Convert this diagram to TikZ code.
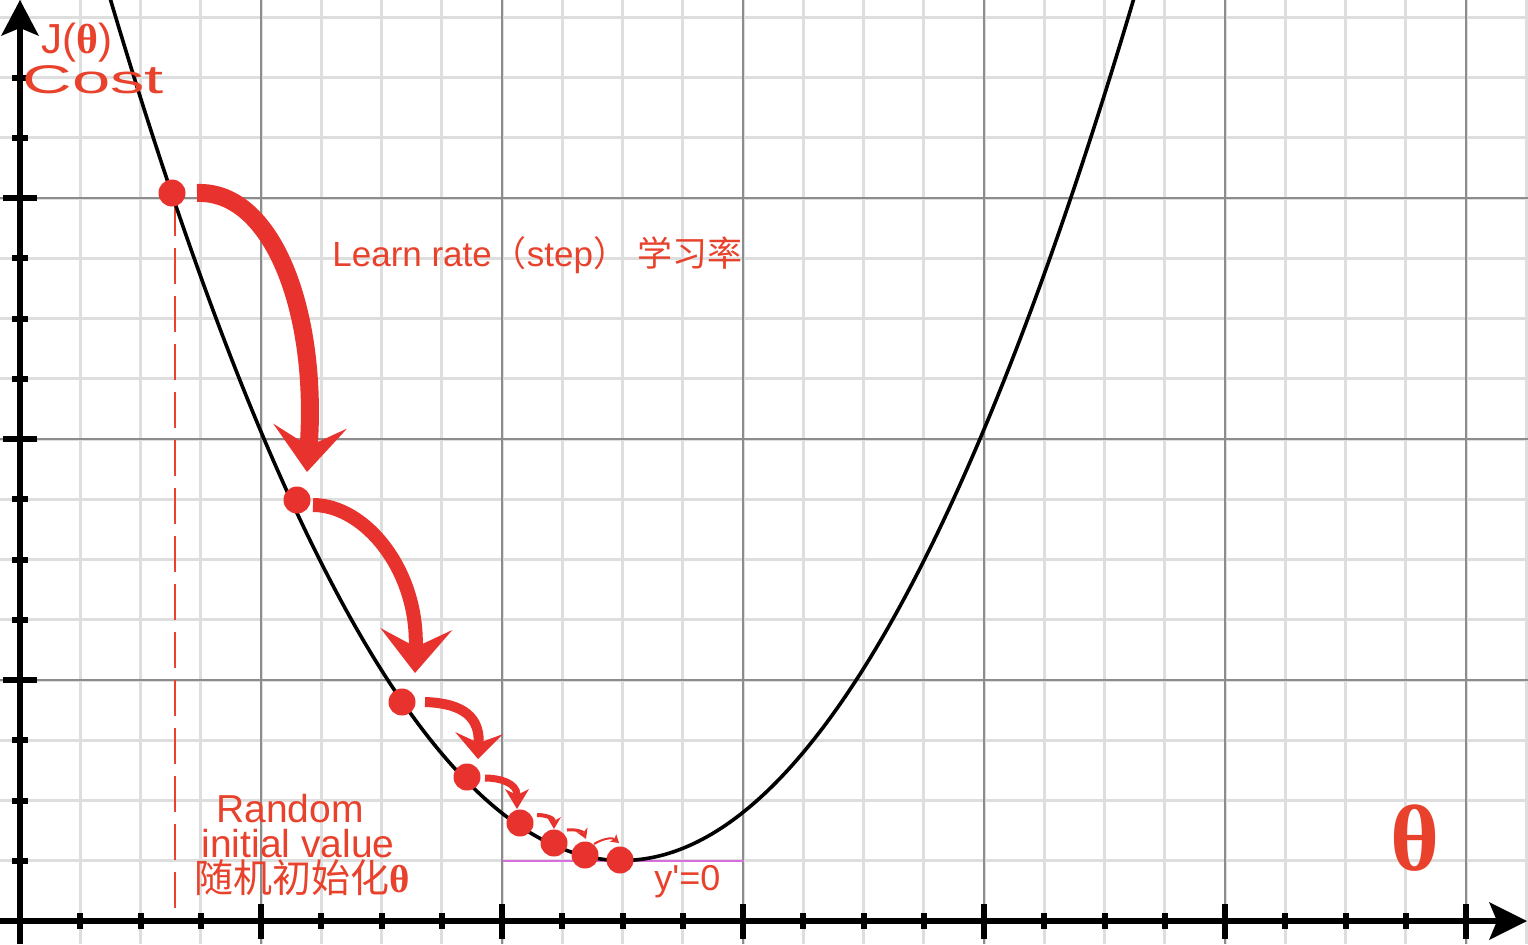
\documentclass[tikz,border=0pt]{standalone}
\usepackage{fontspec}
\usepackage{graphicx}
\setmainfont{Liberation Sans}
\newfontfamily\lsans{Liberation Sans}
\newfontfamily\serifth{Liberation Serif}
\newfontfamily\cjk{Noto Sans CJK SC}
\usetikzlibrary{arrows.meta}
\definecolor{txtred}{RGB}{232,66,44}
\definecolor{dotred}{RGB}{232,50,46}
\definecolor{minorgrid}{RGB}{222,222,222}
\definecolor{majorgrid}{RGB}{140,140,140}
\definecolor{pinkline}{RGB}{214,110,220}
\begin{document}
\begin{tikzpicture}[x=0.5pt,y=-0.5pt,
  dot/.style={circle,fill=dotred,inner sep=0pt,minimum size=13.5pt},
  minorln/.style={draw=minorgrid,line width=1.5pt},
  majorln/.style={draw=majorgrid,line width=1.4pt},
  axisln/.style={line width=3pt,draw=black},
  tickln/.style={line width=3pt,draw=black},
  lbl/.style={text=txtred,inner sep=0pt},
  jump/.style={draw=dotred},
]
\useasboundingbox (0,0) rectangle (1528,944);
\fill[white] (0,0) rectangle (1528,944);
\begin{scope}
\clip (0,0) rectangle (1528,944);
% grid
\foreach \k in {0,...,25} \draw[minorln] ({20+60.25*\k},0) -- ({20+60.25*\k},944);
\foreach \k in {0,...,15} \draw[minorln] (0,{921-60.25*\k}) -- (1528,{921-60.25*\k});
\foreach \k in {1,...,6} \draw[majorln] ({20+241*\k},0) -- ({20+241*\k},944);
\foreach \k in {1,...,3} \draw[majorln] (0,{921-241*\k}) -- (1528,{921-241*\k});
% y'=0 line
\draw[pinkline,line width=1pt] (503,861) -- (744,861);
% dashed line
\draw[txtred,line width=1pt,dash pattern=on 18pt off 6pt] (175,200) -- (175,921);
% curve
\draw[black,line width=1.8pt] plot[domain=95:1150,samples=220] (\x,{860.5-32.9*((\x-622)/100)^2});
\end{scope}
% axes
\coordinate (ybot) at (20,944);
\coordinate (ytop) at (20,0);
\coordinate (xleft) at (0,921);
\coordinate (xright) at (1527,921);
\draw[axisln,-{Stealth[length=18pt,width=19pt,inset=4pt,line width=0pt]}] (ybot) -- (ytop);
\draw[axisln,-{Stealth[length=19pt,width=19pt,inset=4pt,line width=0pt]}] (xleft) -- (xright);
% ticks
\foreach \k in {1,...,24} {
  \pgfmathtruncatemacro{\m}{mod(\k,4)}
  \ifnum\m=0
    \draw[tickln] ({20+60.25*\k},904) -- ({20+60.25*\k},939);
  \else
    \draw[tickln] ({20+60.25*\k},913) -- ({20+60.25*\k},929);
  \fi
}
\foreach \k in {1,...,14} {
  \pgfmathtruncatemacro{\m}{mod(\k,4)}
  \ifnum\m=0
    \draw[tickln] (3,{921-60.25*\k}) -- (37,{921-60.25*\k});
  \else
    \draw[tickln] (12,{921-60.25*\k}) -- (28,{921-60.25*\k});
  \fi
}
% dots
\node[dot] (d1) at (172,193) {};
\node[dot] (d2) at (297,500) {};
\node[dot] (d3) at (402,702) {};
\node[dot] (d4) at (467,777) {};
\node[dot] (d5) at (520,823) {};
\node[dot] (d6) at (554,843) {};
\node[dot] (d7) at (585,855) {};
\node[dot] (d8) at (620,860) {};
% arrows
\coordinate (a1s) at (197,193); \coordinate (a1e) at (307,472);
\coordinate (a2s) at (313,505); \coordinate (a2e) at (415,673);
\coordinate (a3s) at (425,702); \coordinate (a3e) at (478,759);
\coordinate (a4s) at (485,778); \coordinate (a4e) at (517,809);
\coordinate (a5s) at (537,815); \coordinate (a5e) at (554,829);
\coordinate (a6s) at (567,830); \coordinate (a6e) at (586,839);
\coordinate (a7s) at (594,844); \coordinate (a7e) at (619,843);
\draw[jump,line width=9pt,-{Stealth[length=23pt,width=37pt,inset=10pt,line width=0pt]}] (a1s) .. controls (272,190) and (318,310) .. (a1e);
\draw[jump,line width=7pt,-{Stealth[length=22pt,width=36pt,inset=9pt,line width=0pt]}] (a2s) .. controls (365,505) and (418,570) .. (a2e);
\draw[jump,line width=5pt,-{Stealth[length=13pt,width=24pt,inset=5pt,line width=0pt]}] (a3s) .. controls (455,703) and (480,712) .. (a3e);
\draw[jump,line width=3.5pt,-{Stealth[length=10pt,width=12pt,inset=3pt,line width=0pt]}] (a4s) .. controls (500,778) and (517,783) .. (a4e);
\draw[jump,line width=2pt,-{Stealth[length=6pt,width=7pt,inset=2pt,line width=0pt]}] (a5s) .. controls (546,815) and (554,818) .. (a5e);
\draw[jump,line width=1.5pt,-{Stealth[length=5pt,width=6pt,inset=1.5pt,line width=0pt]}] (a6s) .. controls (577,829) and (583,832) .. (a6e);
\draw[jump,line width=1pt,-{Stealth[length=4pt,width=5pt,inset=1pt,line width=0pt]}] (a7s) .. controls (602,839) and (612,837) .. (a7e);
% labels
\node[lbl,anchor=base west,font=\fontsize{21}{21}\selectfont] (jt) at (41,53) {J({\serifth\bfseries θ})};
\node[lbl,anchor=base west,font=\fontsize{20}{20}\selectfont] (cost) at (22,93) {\scalebox{1.72}[1]{Cost}};
\node[lbl,anchor=base west,font=\fontsize{17.5}{17.5}\selectfont] (lr) at (332,266) {Learn rate{\cjk （}step{\cjk ）} {\cjk 学习率}};
\node[lbl,anchor=base,font=\fontsize{19.5}{19.5}\selectfont] (r1) at (290,822) {Random};
\node[lbl,anchor=base,font=\fontsize{19.5}{19.5}\selectfont] (r2) at (298,857) {initial value};
\node[lbl,anchor=base,font=\fontsize{19.5}{19.5}\selectfont] (r3) at (302,892) {{\cjk 随机初始化}{\serifth\bfseries θ}};
\node[lbl,anchor=base west,font=\fontsize{18}{18}\selectfont] (yp) at (654,890) {\lsans y'=0};
\node[lbl,anchor=center,font=\fontsize{47}{47}\selectfont] (th) at (1415,838) {\serifth\bfseries θ};
\end{tikzpicture}
\end{document}
